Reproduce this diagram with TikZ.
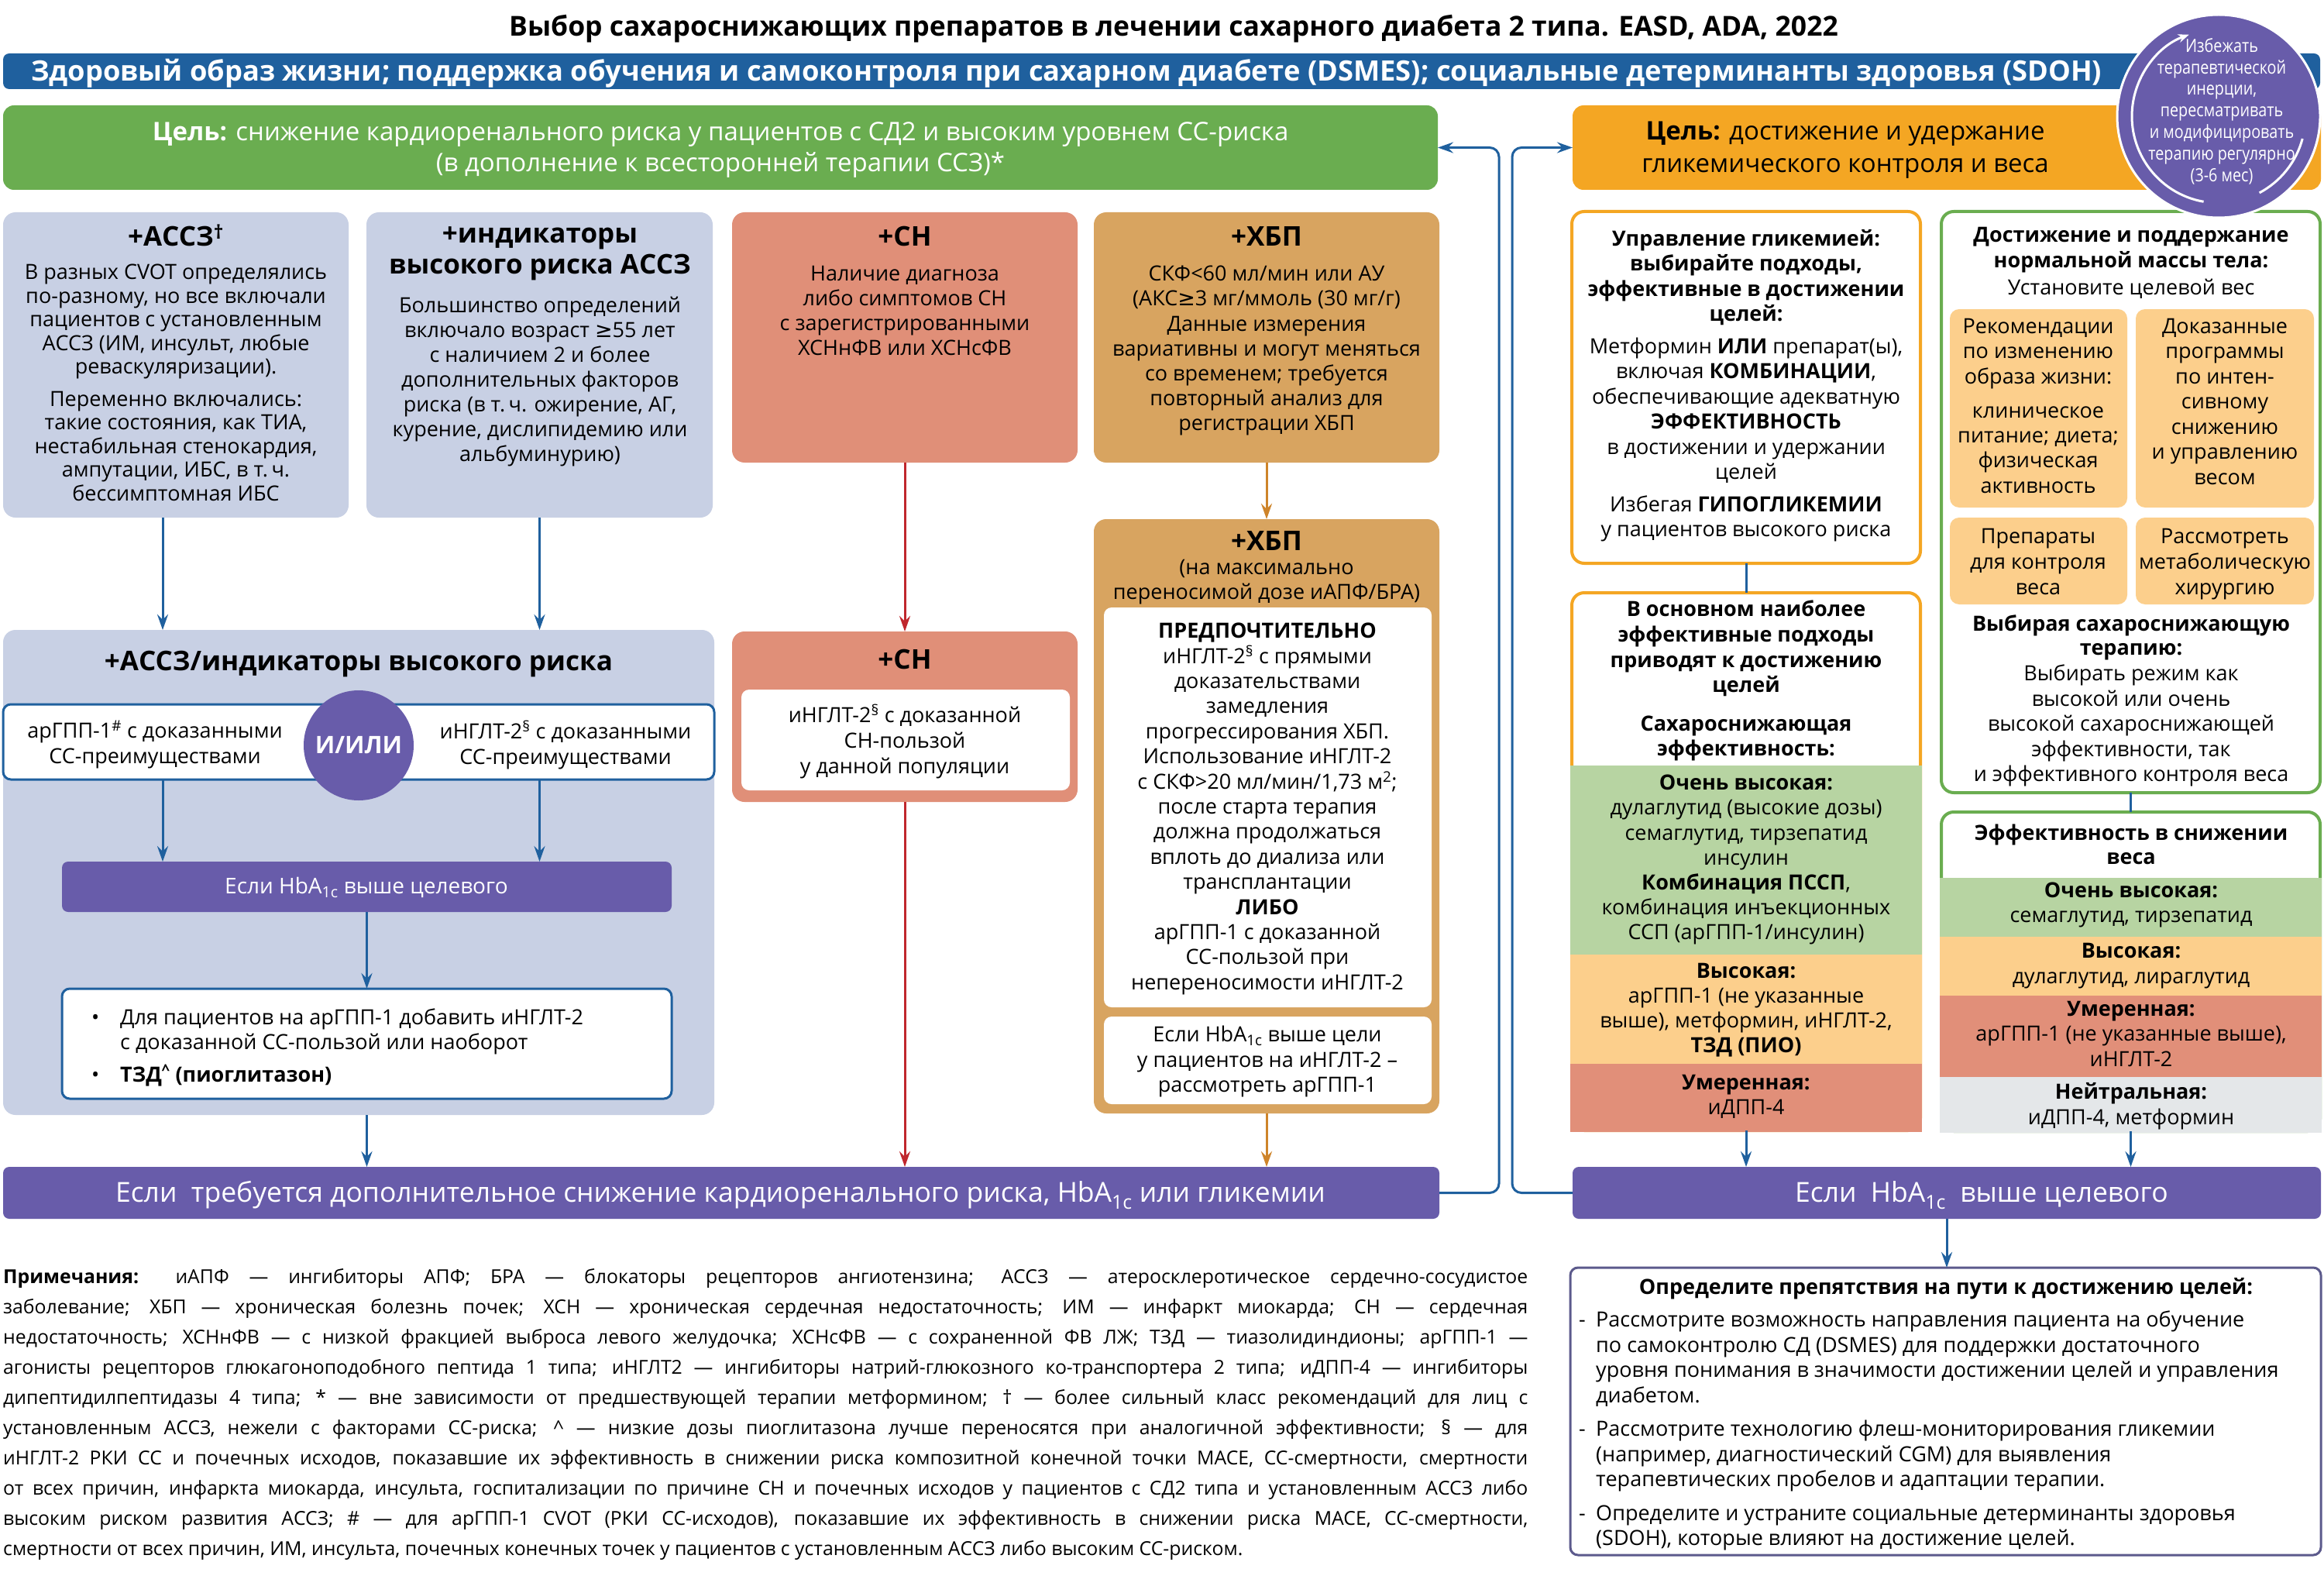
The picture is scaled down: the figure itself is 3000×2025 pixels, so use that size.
\documentclass[tikz,border=0pt]{standalone}
\usepackage{fontspec}
\setmainfont{Open Sans}
\newfontfamily\symf{DejaVu Sans}
\newfontfamily\condf{Open Sans}[FakeStretch=0.84]
\usetikzlibrary{arrows.meta,calc}
\newcommand\fs[2]{\fontsize{#1}{#2}\selectfont}
\newcommand\mkbox[6]{\node[#2, minimum width={#5-#3}, minimum height={#6-#4}] (#1) at ({(#3+#5)/2},{(#4+#6)/2}) {};}
\newcommand\hb{HbA\textsubscript{1c}}
\newcommand\mygeq{{\symf ≥}}
\newcommand\sups[1]{\textsuperscript{#1}}
\newcommand\noteline[1]{\hbox to 1968pt{#1}}
\definecolor{bannerblue}{RGB}{31,96,158}
\definecolor{goalgreen}{RGB}{106,173,80}
\definecolor{goalorange}{RGB}{244,166,35}
\definecolor{cpurple}{RGB}{104,92,170}
\definecolor{lgrey}{RGB}{200,208,228}
\definecolor{csalmon}{RGB}{224,143,120}
\definecolor{ctan}{RGB}{216,164,96}
\definecolor{redarr}{RGB}{192,39,45}
\definecolor{orarr}{RGB}{206,132,42}
\definecolor{bgreen}{RGB}{183,212,162}
\definecolor{byellow}{RGB}{252,207,140}
\definecolor{bred}{RGB}{225,143,121}
\definecolor{bgrey}{RGB}{228,231,233}
\definecolor{slate}{RGB}{92,90,140}
\begin{document}
\begin{tikzpicture}[x=1pt,y=-1pt,
  box/.style={rectangle, inner sep=0pt, outer sep=0pt},
  rbox/.style={box, rounded corners=16pt},
  tx/.style={align=center, inner sep=0pt, anchor=base, font=\fs{27}{32}},
  mt/.style={tx, anchor=north},
  ttl/.style={tx, font=\fs{35}{40}\bfseries},
  arrb/.style={draw=bannerblue, line width=3pt, -{Stealth[length=20pt,width=14pt,inset=7pt]}},
  arrr/.style={draw=redarr, line width=3pt, -{Stealth[length=20pt,width=14pt,inset=7pt]}},
  arro/.style={draw=orarr, line width=3pt, -{Stealth[length=20pt,width=14pt,inset=7pt]}},
  lineb/.style={draw=bannerblue, line width=3pt}
]
\useasboundingbox (0,0) rectangle (3000,2025);
\fill[white] (0,0) rectangle (3000,2025);

% title and banner
\node[tx, font=\fs{35.5}{40}\bfseries] (title) at (1515,47) {Выбор сахароснижающих препаратов в лечении сахарного диабета 2 типа. EASD, ADA, 2022};
\mkbox{ban}{box, fill=bannerblue, rounded corners=8pt}{4}{69}{2995}{115}
\node[tx, anchor=base west, text=white, font=\fs{36.3}{40}\bfseries] (bant) at (40,105) {Здоровый образ жизни; поддержка обучения и самоконтроля при сахарном диабете (DSMES); социальные детерминанты здоровья (SDOH)};

% goals
\mkbox{g1}{box, fill=goalgreen, rounded corners=14pt}{4}{136}{1856}{245}
\node[mt, text=white, font=\fs{33}{40}] (g1t) at (930,157) {\textbf{Цель:} снижение кардиоренального риска у пациентов с СД2 и высоким уровнем СС-риска\\(в дополнение к всесторонней терапии ССЗ)*};
\mkbox{g2}{box, fill=goalorange, rounded corners=14pt}{2030}{136}{2996}{245}
\node[mt, font=\fs{33}{42}] (g2t) at (2382,157) {\textbf{Цель:} достижение и удержание\\гликемического контроля и веса};

% top row boxes
\mkbox{A}{rbox, fill=lgrey}{4}{274}{450}{668}
\node[ttl] (At) at (227,318) {+АССЗ\sups{†}};
\node[mt, font=\fs{27}{30.5}] (Ab) at (227,341) {В разных CVOT определялись\\по-разному, но все включали\\пациентов с установленным\\АССЗ (ИМ, инсульт, любые\\реваскуляризации).\\[11pt]Переменно включались:\\такие состояния, как ТИА,\\нестабильная стенокардия,\\ампутации, ИБС, в т.\,ч.\\бессимптомная ИБС};

\mkbox{B}{rbox, fill=lgrey}{473}{274}{920}{668}
\node[ttl, anchor=north] (Bt) at (697,292) {+индикаторы\\высокого риска АССЗ};
\node[mt, font=\fs{27}{32}] (Bb) at (697,383) {Большинство определений\\включало возраст \mygeq55 лет\\с наличием 2 и более\\дополнительных факторов\\риска (в т.\,ч. ожирение, АГ,\\курение, дислипидемию или\\альбуминурию)};

\mkbox{C}{rbox, fill=csalmon}{945}{274}{1391}{597}
\node[ttl] (Ct) at (1168,318) {+СН};
\node[mt] (Cb) at (1168,343) {Наличие диагноза\\либо симптомов СН\\с зарегистрированными\\ХСНнФВ или ХСНсФВ};

\mkbox{D}{rbox, fill=ctan}{1412}{274}{1858}{597}
\node[ttl] (Dt) at (1635,318) {+ХБП};
\node[mt, font=\fs{27}{32.2}] (Db) at (1635,343) {СКФ<60 мл/мин или АУ\\(АКС\mygeq3 мг/ммоль (30 мг/г)\\Данные измерения\\вариативны и могут меняться\\со временем; требуется\\повторный анализ для\\регистрации ХБП};

% box E
\mkbox{E}{rbox, fill=lgrey}{4}{813}{922}{1439}
\node[ttl] (Et) at (463,865) {+АССЗ/индикаторы высокого риска};
\mkbox{row}{box, fill=white, draw=bannerblue, line width=3pt, rounded corners=10pt}{4}{909}{922}{1006}
\node[mt, font=\fs{27}{33}] (rowl) at (200,930) {арГПП-1\sups{\#} с доказанными\\СС-преимуществами};
\node[mt, font=\fs{27}{33}] (rowr) at (730,930) {иНГЛТ-2\sups{§} с доказанными\\СС-преимуществами};
\node[circle, fill=cpurple, minimum size=142pt, inner sep=0pt, text=white, font=\fs{31}{36}\bfseries] (ili) at (463,962) {И/ИЛИ};
\mkbox{pb}{box, fill=cpurple, rounded corners=8pt}{80}{1112}{867}{1177}
\node[tx, text=white, font=\fs{28}{32}] (pbt) at (473,1153) {Если \hb\ выше целевого};
\mkbox{bb}{box, fill=white, draw=bannerblue, line width=3pt, rounded corners=10pt}{80}{1276}{867}{1418}
\node[mt, anchor=north west, align=left, font=\fs{27}{32}] (bbt) at (118,1302) {\makebox[37pt][l]{•}Для пациентов на арГПП-1 добавить иНГЛТ-2\\\hspace*{37pt}с доказанной СС-пользой или наоборот\\[10pt]\makebox[37pt][l]{•}\textbf{ТЗД\sups{\textasciicircum} (пиоглитазон)}};

% box F
\mkbox{F}{rbox, fill=csalmon}{945}{815}{1391}{1035}
\mkbox{Fi}{box, fill=white, rounded corners=10pt}{957}{890}{1381}{1020}
\node[ttl] (Ft) at (1168,863) {+СН};
\node[mt, font=\fs{27}{33}] (Fb) at (1168,909) {иНГЛТ-2\sups{§} с доказанной\\СН-пользой\\у данной популяции};

% box G
\mkbox{G}{rbox, fill=ctan}{1412}{670}{1858}{1437}
\mkbox{Gi}{box, fill=white, rounded corners=10pt}{1425}{784}{1848}{1300}
\mkbox{Gj}{box, fill=white, rounded corners=10pt}{1425}{1312}{1848}{1425}
\node[ttl] (Gt) at (1635,710) {+ХБП};
\node[mt] (Gs) at (1635,722) {(на максимально\\переносимой дозе иАПФ/БРА)};
\node[mt, font=\fs{27}{32.4}] (Gib) at (1636,804) {\textbf{ПРЕДПОЧТИТЕЛЬНО}\\иНГЛТ-2\sups{§} с прямыми\\доказательствами\\замедления\\прогрессирования ХБП.\\Использование иНГЛТ-2\\с СКФ>20 мл/мин/1,73 м\sups{2};\\после старта терапия\\должна продолжаться\\вплоть до диализа или\\трансплантации\\\textbf{ЛИБО}\\арГПП-1 с доказанной\\СС-пользой при\\непереносимости иНГЛТ-2};
\node[mt, font=\fs{27}{32.5}] (Gjb) at (1636,1324) {Если \hb\ выше цели\\у пациентов на иНГЛТ-2 –\\рассмотреть арГПП-1};

% bottom bars
\mkbox{LB}{box, fill=cpurple, rounded corners=8pt}{4}{1506}{1858}{1573}
\node[tx, text=white, font=\fs{35.5}{40}] (LBt) at (930,1551) {Если\ \ требуется дополнительное снижение кардиоренального риска, \hb\ или гликемии};
\mkbox{RB}{box, fill=cpurple, rounded corners=8pt}{2030}{1506}{2996}{1573}
\node[tx, text=white, font=\fs{35.5}{40}] (RBt) at (2558,1551) {Если\ \ \hb\ \ выше целевого};

% right column: H
\mkbox{H}{box, fill=white, draw=goalorange, line width=4pt, rounded corners=16pt}{2029}{273}{2479}{727}
\node[mt, font=\fs{27}{32.5}] (Hb) at (2254,296) {\textbf{Управление гликемией:}\\\textbf{выбирайте подходы,}\\\textbf{эффективные в достижении}\\\textbf{целей:}\\[9pt]Метформин \textbf{ИЛИ} препарат(ы),\\включая \textbf{КОМБИНАЦИИ},\\обеспечивающие адекватную\\\textbf{ЭФФЕКТИВНОСТЬ}\\в достижении и удержании\\целей\\[9pt]Избегая \textbf{ГИПОГЛИКЕМИИ}\\у пациентов высокого риска};

% I
\mkbox{I}{box, fill=white, draw=goalorange, line width=4pt, rounded corners=16pt}{2029}{765}{2479}{1459}
\fill[bgreen] (2027,988) rectangle (2481,1232);
\fill[byellow] (2027,1232) rectangle (2481,1373);
\fill[bred] (2027,1373) rectangle (2481,1461);
\node[mt, font=\fs{27}{32.6}\bfseries] (Ib) at (2254,775) {В основном наиболее\\эффективные подходы\\приводят к достижению\\целей\\[17pt]Сахароснижающая\\эффективность:};
\node[mt, font=\fs{27}{32.2}] (Ig) at (2254,1000) {\textbf{Очень высокая:}\\дулаглутид (высокие дозы)\\семаглутид, тирзепатид\\инсулин\\\textbf{Комбинация ПССП},\\комбинация инъекционных\\ССП (арГПП-1/инсулин)};
\node[mt, font=\fs{27}{32}] (Iy) at (2254,1243) {\textbf{Высокая:}\\арГПП-1 (не указанные\\выше), метформин, иНГЛТ-2,\\\textbf{ТЗД (ПИО)}};
\node[mt, font=\fs{27}{32}] (Ir) at (2254,1387) {\textbf{Умеренная:}\\иДПП-4};

% K
\mkbox{K}{box, fill=white, draw=goalgreen, line width=4pt, rounded corners=16pt}{2506}{273}{2995}{1023}
\node[mt, font=\fs{27}{33}\bfseries] (Kt) at (2751,293) {Достижение и поддержание\\нормальной массы тела:};
\node[tx] (Ks) at (2751,381) {Установите целевой вес};
\mkbox{K1}{box, fill=byellow, rounded corners=12pt}{2517}{399}{2746}{655}
\mkbox{K2}{box, fill=byellow, rounded corners=12pt}{2757}{399}{2987}{655}
\mkbox{K3}{box, fill=byellow, rounded corners=12pt}{2517}{668}{2746}{780}
\mkbox{K4}{box, fill=byellow, rounded corners=12pt}{2757}{668}{2987}{780}
\node[mt, font=\fs{27}{32.3}] (K1t) at (2631,411) {Рекомендации\\по изменению\\образа жизни:\\[12pt]клиническое\\питание; диета;\\физическая\\активность};
\node[mt, font=\fs{27}{32.5}] (K2t) at (2872,411) {Доказанные\\программы\\по интен-\\сивному\\снижению\\и управлению\\весом};
\node[mt, font=\fs{27}{33}] (K3t) at (2631,682) {Препараты\\для контроля\\веса};
\node[mt, font=\fs{27}{33}] (K4t) at (2872,682) {Рассмотреть\\метаболическую\\хирургию};
\node[mt, font=\fs{27}{31}\bfseries] (K5t) at (2751,794) {Выбирая сахароснижающую\\терапию:};
\node[mt, font=\fs{27}{32.5}] (K6t) at (2751,858) {Выбирать режим как\\высокой или очень\\высокой сахароснижающей\\эффективности, так\\и эффективного контроля веса};

% J
\mkbox{J}{box, fill=white, draw=goalgreen, line width=4pt, rounded corners=16pt}{2506}{1048}{2995}{1460}
\fill[bgreen] (2504,1133) rectangle (2997,1209);
\fill[byellow] (2504,1209) rectangle (2997,1285);
\fill[bred] (2504,1285) rectangle (2997,1390);
\fill[bgrey] (2504,1390) rectangle (2997,1462);
\node[mt, font=\fs{27}{31}\bfseries] (Jt) at (2751,1064) {Эффективность в снижении\\веса};
\node[mt, font=\fs{27}{32}] (Jg) at (2751,1139) {\textbf{Очень высокая:}\\семаглутид, тирзепатид};
\node[mt, font=\fs{27}{33}] (Jy) at (2751,1217) {\textbf{Высокая:}\\дулаглутид, лираглутид};
\node[mt, font=\fs{27}{32.5}] (Jr) at (2751,1292) {\textbf{Умеренная:}\\арГПП-1 (не указанные выше),\\иНГЛТ-2};
\node[mt, font=\fs{27}{33}] (Jn) at (2751,1397) {\textbf{Нейтральная:}\\иДПП-4, метформин};

% obstacles
\mkbox{OB}{box, fill=white, draw=slate, line width=3pt, rounded corners=10pt}{2027}{1636}{2996}{2007}
\node[tx, font=\fs{27}{32}\bfseries] (OBt) at (2512,1670) {Определите препятствия на пути к достижению целей:};
\node[mt, anchor=north west, align=left, font=\fs{27}{32.5}] (OBb) at (2038,1692) {\makebox[22pt][l]{-}Рассмотрите возможность направления пациента на обучение\\\hspace*{22pt}по самоконтролю СД (DSMES) для поддержки достаточного\\\hspace*{22pt}уровня понимания в значимости достижении целей и управления\\\hspace*{22pt}диабетом.\\[11pt]\makebox[22pt][l]{-}Рассмотрите технологию флеш-мониторирования гликемии\\\hspace*{22pt}(например, диагностический CGM) для выявления\\\hspace*{22pt}терапевтических пробелов и адаптации терапии.\\[11pt]\makebox[22pt][l]{-}Определите и устраните социальные детерминанты здоровья\\\hspace*{22pt}(SDOH), которые влияют на достижение целей.};

% notes
\node[inner sep=0pt, anchor=base west] (notes) at (4,1656) {\vtop{\fs{24.8}{39}%
\noteline{\textbf{Примечания:} иАПФ — ингибиторы АПФ; БРА — блокаторы рецепторов ангиотензина; АССЗ — атеросклеротическое сердечно-сосудистое}
\noteline{заболевание; ХБП — хроническая болезнь почек; ХСН — хроническая сердечная недостаточность; ИМ — инфаркт миокарда; СН — сердечная}
\noteline{недостаточность; ХСНнФВ — с низкой фракцией выброса левого желудочка; ХСНсФВ — с сохраненной ФВ ЛЖ; ТЗД — тиазолидиндионы; арГПП-1 —}
\noteline{агонисты рецепторов глюкагоноподобного пептида 1 типа; иНГЛТ2 — ингибиторы натрий-глюкозного ко-транспортера 2 типа; иДПП-4 — ингибиторы}
\noteline{дипептидилпептидазы 4 типа; * — вне зависимости от предшествующей терапии метформином; † — более сильный класс рекомендаций для лиц с}
\noteline{установленным АССЗ, нежели с факторами СС-риска; \textasciicircum\ — низкие дозы пиоглитазона лучше переносятся при аналогичной эффективности; § — для}
\noteline{иНГЛТ-2 РКИ СС и почечных исходов, показавшие их эффективность в снижении риска композитной конечной точки MACE, СС-смертности, смертности}
\noteline{от всех причин, инфаркта миокарда, инсульта, госпитализации по причине СН и почечных исходов у пациентов с СД2 типа и установленным АССЗ либо}
\noteline{высоким риском развития АССЗ; \# — для арГПП-1 CVOT (РКИ СС-исходов), показавшие их эффективность в снижении риска MACE, СС-смертности,}
\noteline{смертности от всех причин, ИМ, инсульта, почечных конечных точек у пациентов с установленным АССЗ либо высоким СС-риском.\hfill}}};

% connectors
\coordinate (ax) at ([xshift=-17pt]A.south);
\draw[arrb] (ax) -- (ax |- E.north);
\draw[arrb] (B.south) -- (B.south |- E.north);
\draw[arrr] (C.south) -- (F.north);
\draw[arro] (D.south) -- (G.north);
\draw[arrb] (row.south -| ax) -- (ax |- pb.north);
\draw[arrb] (row.south -| B.south) -- (B.south |- pb.north);
\draw[arrb] (pb.south) -- (bb.north);
\draw[arrb] (pb.south |- E.south) -- (pb.south |- LB.north);
\draw[arrr] (F.south) -- (F.south |- LB.north);
\draw[arro] (G.south) -- (G.south |- LB.north);
\draw[lineb] (H.south) -- (I.north);
\draw[lineb] (K.south) -- (J.north);
\draw[arrb] (I.south) -- (I.south |- RB.north);
\draw[arrb] (J.south) -- (J.south |- RB.north);
\draw[arrb] (RB.south) -- (RB.south |- OB.north);
\draw[arrb, rounded corners=12pt] (LB.east) -| ([xshift=79pt]g1.east) -- (g1.east);
\draw[arrb, rounded corners=12pt] (RB.west) -| ([xshift=-78pt]g2.west) -- (g2.west);

% circle
\node[circle, fill=cpurple, draw=white, line width=3pt, minimum size=262pt, inner sep=0pt] (cir) at (2864,150) {};
\draw[white, line width=3pt, -{Stealth[length=14pt,width=11pt]}] ([shift={(100:112)}]cir.center) arc[start angle=100, end angle=250, radius=112];
\draw[white, line width=3pt] ([shift={(15:112)}]cir.center) arc[start angle=15, end angle=62, radius=112];
\node[mt, text=white, font=\condf\fs{23.5}{27.8}] (cirt) at (2868,49) {Избежать\\терапевтической\\инерции,\\пересматривать\\и модифицировать\\терапию регулярно\\(3-6 мес)};
\end{tikzpicture}
\end{document}
